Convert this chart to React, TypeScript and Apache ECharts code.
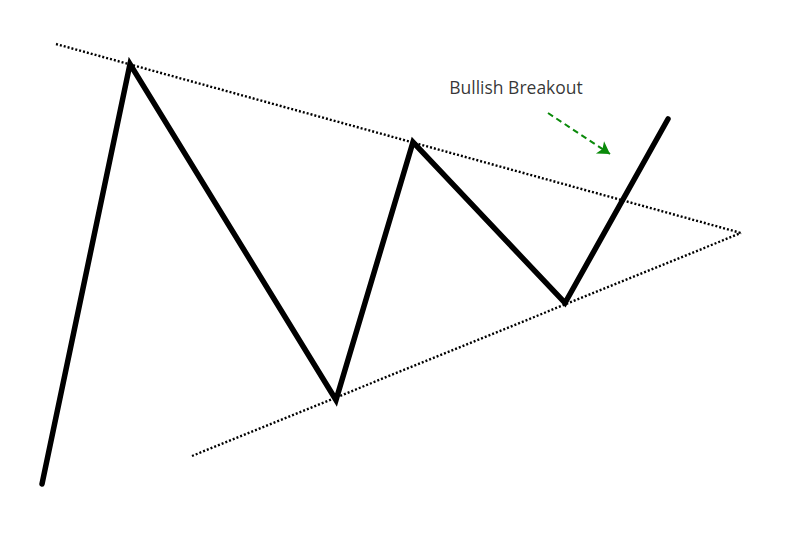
import React, { useEffect, useRef } from "react";
import * as echarts from "echarts";

// x = time position, y = price level
const zigzagX = [42, 130, 336, 413, 565, 668];
const zigzagY = [68, 488, 152, 410, 249, 433];

const upperX = [56, 741];
const upperY = [508, 319];

const lowerX = [192, 741];
const lowerY = [96, 319];

const arrowFrom = [548, 439];
const arrowTo = [610, 398];

const labelText = "Bullish Breakout";
const labelPos = [516, 465];

export default function App() {
  const ref = useRef<HTMLDivElement>(null);
  useEffect(() => {
    document.body.style.margin = "0";
    const chart = echarts.init(ref.current!, undefined, { renderer: "svg" });
    const pair = (xs: number[], ys: number[]) => xs.map((x, i) => [x, ys[i]]);
    chart.setOption({
      animation: false,
      backgroundColor: "#ffffff",
      grid: { left: 0, right: 0, top: 0, bottom: 0 },
      xAxis: { type: "value", min: 0, max: 809, show: false },
      yAxis: { type: "value", min: 0, max: 552, show: false },
      series: [
        {
          type: "line",
          data: pair(upperX, upperY),
          symbol: "none",
          lineStyle: { color: "#000", width: 2.4, type: [2, 2] },
          z: 1,
        },
        {
          type: "line",
          data: pair(lowerX, lowerY),
          symbol: "none",
          lineStyle: { color: "#000", width: 2.4, type: [2, 2] },
          z: 1,
        },
        {
          type: "line",
          data: pair(zigzagX, zigzagY),
          symbol: "none",
          lineStyle: { color: "#000", width: 5.5, cap: "round", join: "miter" },
          z: 3,
          markLine: {
            silent: true,
            symbol: ["none", "arrow"],
            symbolSize: [11, 12],
            label: { show: false },
            lineStyle: { color: "#0a8a0a", width: 2, type: [6, 4] },
            data: [[{ coord: arrowFrom }, { coord: arrowTo }]],
          },
        },
        {
          type: "scatter",
          data: [labelPos],
          symbolSize: 0,
          itemStyle: { color: "#000" },
          label: {
            show: true,
            position: "inside",
            formatter: labelText,
            color: "#000",
            fontSize: 17.5,
            fontFamily: "Open Sans",
          },
          z: 4,
        },
      ],
    });
    return () => chart.dispose();
  }, []);
  return <div ref={ref} style={{ width: 809, height: 552 }} />;
}
